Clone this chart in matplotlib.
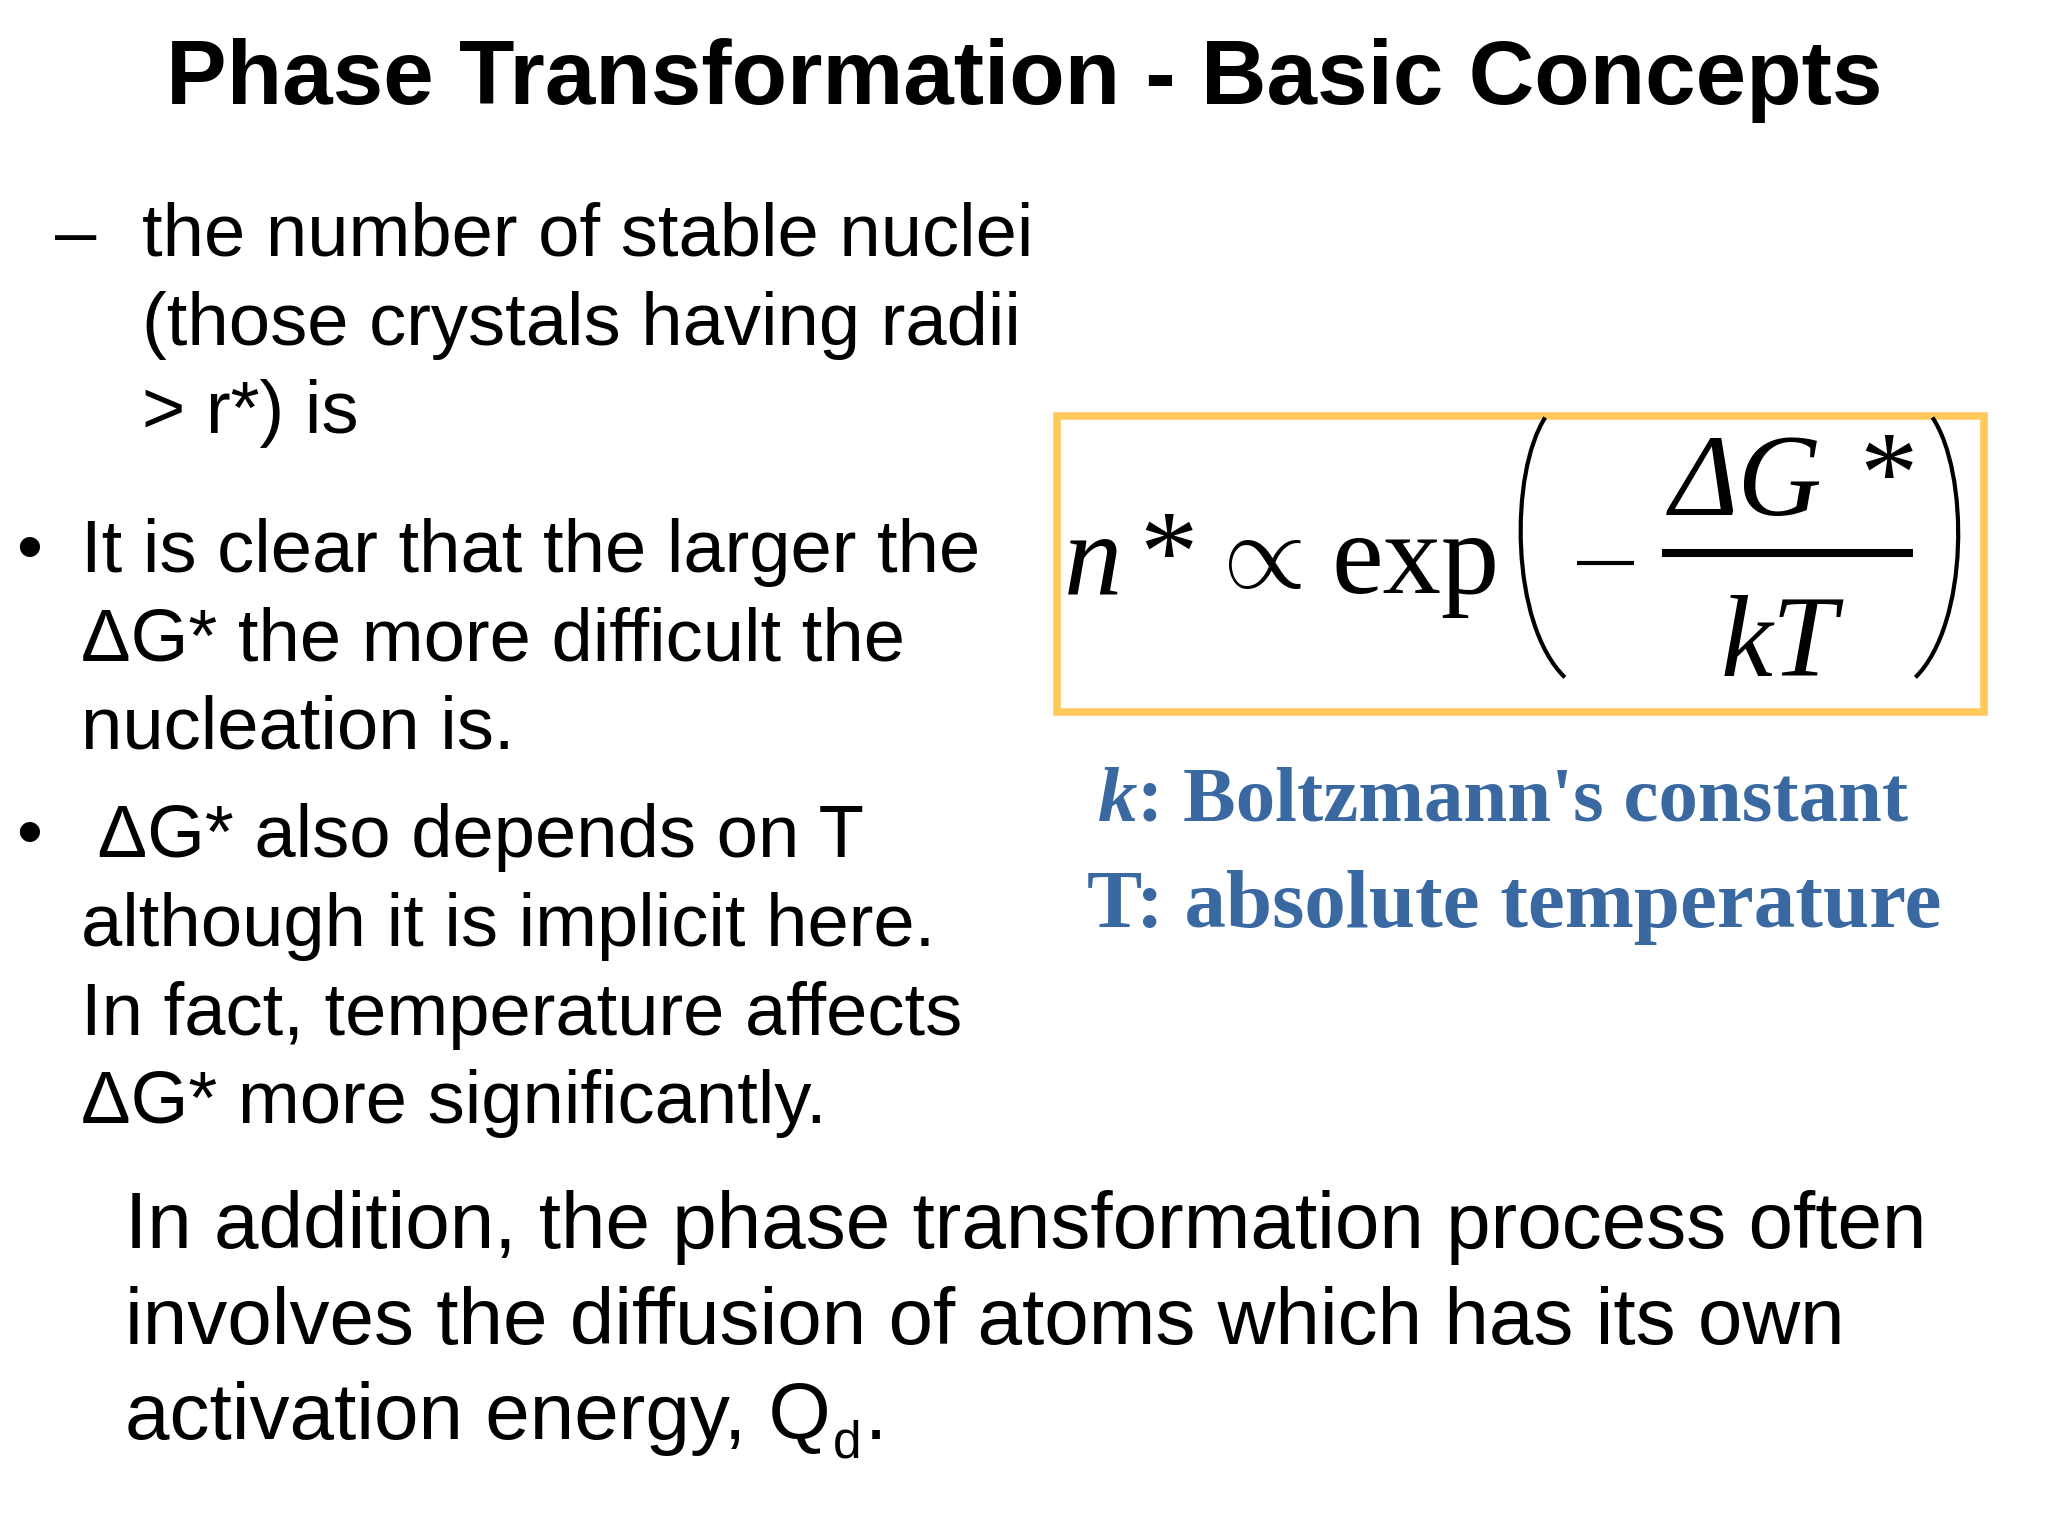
import matplotlib.pyplot as plt
from matplotlib.patches import Rectangle, PathPatch
from matplotlib.path import Path

title = "Phase Transformation - Basic Concepts"
dash_lines = ["the number of stable nuclei", "(those crystals having radii", "> r*) is"]
bullet1_lines = ["It is clear that the larger the", "\u0394G* the more difficult the", "nucleation is."]
bullet2_lines = [" \u0394G* also depends on T", "although it is implicit here.",
                 "In fact, temperature affects", "\u0394G* more significantly."]
bottom_lines = ["In addition, the phase transformation process often",
                "involves the diffusion of atoms which has its own",
                "activation energy, Q"]
bottom_sub = "d"
legend_k = ": Boltzmann's constant"
legend_T = "T: absolute temperature"

sans = ['Liberation Sans', 'DejaVu Sans']
serif = ['Liberation Serif', 'DejaVu Serif']
blue = '#3a69a2'
gold = '#fec95a'

fig = plt.figure(figsize=(20.48, 15.36), dpi=100)
ax = fig.add_axes([0, 0, 1, 1])
ax.set_xlim(0, 1560)
ax.set_ylim(1170, 0)
ax.axis('off')
r = fig.canvas.get_renderer()


def extent(t):
    bb = t.get_window_extent(renderer=r).transformed(ax.transData.inverted())
    return min(bb.x0, bb.x1), max(bb.x0, bb.x1)


ax.text(780, 79, title, family=sans, weight='bold', fontsize=65.4, ha='center', va='baseline')

body = dict(family=sans, fontsize=53.5, va='baseline', color='black')
ax.text(42, 195, "\u2013", **body)
for i, s in enumerate(dash_lines):
    ax.text(108, 195 + i * 67.5, s, **body)

ax.text(12, 436, "\u2022", **body)
for i, s in enumerate(bullet1_lines):
    ax.text(62, 436 + i * 67, s, **body)

ax.text(12, 653, "\u2022", **body)
for i, s in enumerate(bullet2_lines):
    ax.text(62, 653 + i * 67.5, s, **body)

last = None
for i, s in enumerate(bottom_lines):
    last = ax.text(95, 951 + i * 72.5, s, family=sans, fontsize=57.6, va='baseline')

# subscript d and period after the last line
y_base = 951 + 2 * 72.5
sub = ax.text(extent(last)[1] + 2, y_base + 14, bottom_sub, family=sans, fontsize=37, va='baseline')
ax.text(extent(sub)[1] + 2, y_base, ".", family=sans, fontsize=57.6, va='baseline')

# formula box
ax.add_patch(Rectangle((805, 317), 706, 225, fill=False, edgecolor=gold, linewidth=5.4))
fs = 84
ax.text(810, 452, "n", family=serif, style='italic', fontsize=fs, va='baseline')
ax.text(868, 450, "*", family=serif, fontsize=fs, va='baseline')
ax.text(917, 448, r"$\propto$", math_fontfamily='cm', fontsize=fs * 0.92, va='baseline', ha='left')
ax.text(1014, 452, "exp", family=serif, fontsize=fs, va='baseline')

lpar = Path([(1177, 318), (1150, 360), (1150, 475), (1192, 516)],
            [Path.MOVETO, Path.CURVE4, Path.CURVE4, Path.CURVE4])
rpar = Path([(1472, 318), (1500, 360), (1500, 475), (1459, 516)],
            [Path.MOVETO, Path.CURVE4, Path.CURVE4, Path.CURVE4])
ax.add_patch(PathPatch(lpar, fill=False, linewidth=3.0, edgecolor='black'))
ax.add_patch(PathPatch(rpar, fill=False, linewidth=3.0, edgecolor='black'))
ax.plot([1201, 1245], [429, 429], color='black', linewidth=3, solid_capstyle='butt')
ax.plot([1266, 1457], [421, 421], color='black', linewidth=5.8, solid_capstyle='butt')
ax.text(1272, 392, "\u0394G", family=serif, style='italic', fontsize=fs, va='baseline')
ax.text(1416, 390, "*", family=serif, fontsize=fs, va='baseline')
ax.text(1355, 515, "kT", family=serif, style='italic', fontsize=fs, va='baseline', ha='center')

# blue legend lines, sized to the reference widths
k_left, k_right, k_base = 836, 1454, 625
kk = ax.text(k_left, k_base, "k", family=serif, style='italic', weight='bold', fontsize=60,
             color=blue, va='baseline')
kr = ax.text(extent(kk)[1], k_base, legend_k, family=serif, weight='bold', fontsize=60,
             color=blue, va='baseline')
scale = (k_right - k_left) / (extent(kr)[1] - k_left)
kk.set_fontsize(60 * scale)
kr.set_fontsize(60 * scale)
kr.set_x(extent(kk)[1])

t_left, t_right, t_base = 828, 1479, 706
tt = ax.text(t_left, t_base, legend_T, family=serif, weight='bold', fontsize=60, color=blue,
             va='baseline')
x0, x1 = extent(tt)
tt.set_fontsize(60 * (t_right - t_left) / (x1 - x0))

fig.savefig('out.png', dpi=100)
